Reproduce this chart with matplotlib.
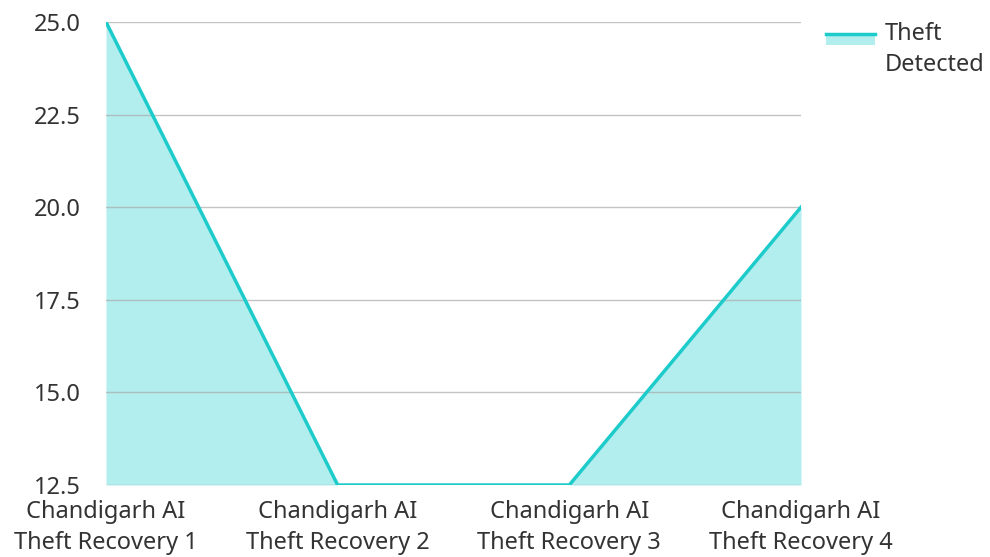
import matplotlib
matplotlib.use('Agg')
import matplotlib.pyplot as plt
from matplotlib.patches import Rectangle
from matplotlib.lines import Line2D
import numpy as np

categories = ['Chandigarh AI\nTheft Recovery 1', 'Chandigarh AI\nTheft Recovery 2',
              'Chandigarh AI\nTheft Recovery 3', 'Chandigarh AI\nTheft Recovery 4']
theft_detected = [25.0, 12.5, 12.5, 20.0]
y_ticks = [12.5, 15.0, 17.5, 20.0, 22.5, 25.0]

line_color = '#1ECBCB'
fill_color = '#B2EEEE'
text_color = '#333333'

plt.rcParams['font.family'] = ['Noto Sans', 'DejaVu Sans']

W, H = 990, 557
fig = plt.figure(figsize=(W / 100, H / 100), dpi=100)
ax = fig.add_axes([106 / W, 1 - 485 / H, (801 - 106) / W, (485 - 22) / H])

x = np.arange(len(categories))
ax.fill_between(x, theft_detected, 12.5, color=fill_color, linewidth=0, zorder=2)
ax.plot(x, theft_detected, color=line_color, linewidth=2.5, zorder=3, solid_joinstyle='miter')

ax.set_xlim(0, len(categories) - 1)
ax.set_ylim(12.5, 25.0)
ax.set_yticks(y_ticks)
ax.set_yticklabels(['%.1f' % v for v in y_ticks])
ax.set_xticks(x)
ax.set_xticklabels(categories)
ax.tick_params(axis='both', length=0, labelsize=17, colors=text_color)
ax.tick_params(axis='y', pad=18)
ax.tick_params(axis='x', pad=11)
ax.grid(axis='y', color='#aaaaaa', linewidth=1, alpha=0.7, zorder=1)
ax.set_axisbelow(False)
for s in ax.spines.values():
    s.set_visible(False)
for lbl in ax.get_xticklabels():
    lbl.set_linespacing(1.38)

# legend drawn by hand: fill swatch with line on top
fig.add_artist(Rectangle((826 / W, 1 - 45 / H), 49 / W, 12 / H,
                         transform=fig.transFigure, facecolor=fill_color, edgecolor='none'))
fig.add_artist(Line2D([826 / W, 875 / W], [1 - 33.5 / H, 1 - 33.5 / H],
                      transform=fig.transFigure, color=line_color, linewidth=2.5))
fig.text(885 / W, 1 - 34 / H, 'Theft', fontsize=17, color=text_color, va='center', ha='left')
fig.text(885 / W, 1 - 65 / H, 'Detected', fontsize=17, color=text_color, va='center', ha='left')

fig.savefig('out.png', dpi=100)
